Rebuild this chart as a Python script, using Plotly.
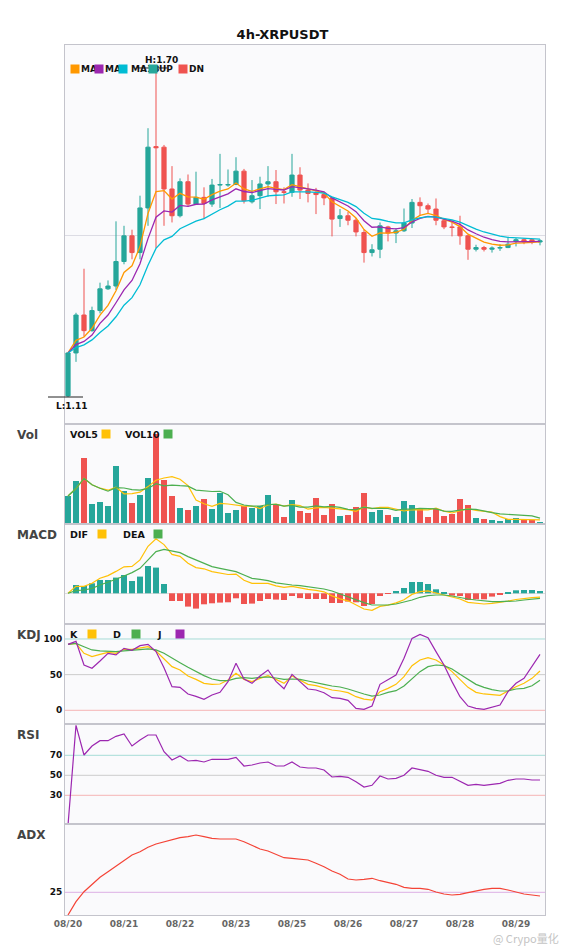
import plotly.graph_objects as go
from plotly.subplots import make_subplots

# 4h candles of XRPUSDT, one bar per index, ticks every 7 bars
tick_pos = [0, 7, 14, 21, 28, 35, 42, 49, 56]
tick_text = ["08/20", "08/21", "08/22", "08/23", "08/25", "08/26", "08/27", "08/28", "08/29"]

open_ = [1.112, 1.189, 1.257, 1.229, 1.265, 1.304, 1.309, 1.353, 1.399, 1.369,
         1.449, 1.559, 1.558, 1.483, 1.435, 1.496, 1.456, 1.468, 1.456, 1.490,
         1.490, 1.491, 1.515, 1.460, 1.471, 1.492, 1.496, 1.478, 1.477, 1.508,
         1.481, 1.476, 1.473, 1.467, 1.430, 1.435, 1.427, 1.405, 1.369, 1.375,
         1.415, 1.404, 1.408, 1.422, 1.459, 1.453, 1.447, 1.426, 1.415, 1.415,
         1.399, 1.375, 1.378, 1.375, 1.377, 1.378, 1.389, 1.392, 1.392, 1.388]
high = [1.190, 1.261, 1.340, 1.272, 1.315, 1.319, 1.425, 1.417, 1.410, 1.471,
        1.592, 1.700, 1.562, 1.524, 1.502, 1.509, 1.514, 1.486, 1.501, 1.546,
        1.518, 1.540, 1.519, 1.499, 1.505, 1.524, 1.517, 1.486, 1.546, 1.522,
        1.493, 1.485, 1.478, 1.469, 1.447, 1.442, 1.431, 1.410, 1.384, 1.423,
        1.417, 1.413, 1.448, 1.465, 1.468, 1.457, 1.466, 1.431, 1.427, 1.435,
        1.401, 1.383, 1.381, 1.380, 1.384, 1.396, 1.395, 1.395, 1.393, 1.393]
low = [1.110, 1.173, 1.218, 1.227, 1.260, 1.302, 1.302, 1.348, 1.357, 1.357,
       1.417, 1.377, 1.417, 1.423, 1.432, 1.451, 1.455, 1.429, 1.451, 1.449,
       1.487, 1.490, 1.457, 1.457, 1.447, 1.469, 1.456, 1.457, 1.469, 1.465,
       1.459, 1.438, 1.454, 1.398, 1.415, 1.418, 1.398, 1.351, 1.362, 1.359,
       1.389, 1.386, 1.406, 1.413, 1.435, 1.439, 1.418, 1.411, 1.398, 1.383,
       1.356, 1.371, 1.371, 1.369, 1.372, 1.377, 1.380, 1.384, 1.384, 1.382]
close = [1.189, 1.257, 1.229, 1.265, 1.304, 1.309, 1.353, 1.399, 1.369, 1.449,
         1.558, 1.557, 1.483, 1.435, 1.496, 1.456, 1.468, 1.457, 1.490, 1.491,
         1.491, 1.515, 1.462, 1.471, 1.492, 1.496, 1.478, 1.477, 1.508, 1.481,
         1.475, 1.473, 1.467, 1.429, 1.435, 1.427, 1.406, 1.369, 1.374, 1.417,
         1.404, 1.408, 1.422, 1.459, 1.453, 1.447, 1.427, 1.415, 1.414, 1.399,
         1.375, 1.378, 1.375, 1.377, 1.378, 1.384, 1.392, 1.388, 1.388, 1.390]

ma5 = [1.189, 1.2117, 1.2175, 1.2333, 1.2569, 1.2743, 1.3005, 1.3333, 1.3452, 1.3798,
       1.4392, 1.4785, 1.48, 1.465, 1.4752, 1.4688, 1.4685, 1.4647, 1.473, 1.479,
       1.483, 1.4937, 1.483, 1.4788, 1.4832, 1.4873, 1.4842, 1.482, 1.4907, 1.4875,
       1.4833, 1.4797, 1.4755, 1.46, 1.4515, 1.4435, 1.4311, 1.4103, 1.3981, 1.4043,
       1.404, 1.4054, 1.4108, 1.4269, 1.4356, 1.4394, 1.4354, 1.4287, 1.4237, 1.4156,
       1.402, 1.3941, 1.3877, 1.3842, 1.3821, 1.3829, 1.3858, 1.3865, 1.387, 1.3881]
ma8 = [1.189, 1.2041, 1.2097, 1.221, 1.242, 1.257, 1.279, 1.302, 1.319, 1.349,
       1.394, 1.4323, 1.4436, 1.4417, 1.4536, 1.4518, 1.4556, 1.4559, 1.4634, 1.4695,
       1.4743, 1.4834, 1.4785, 1.4767, 1.4801, 1.4835, 1.4823, 1.4812, 1.4872, 1.4858,
       1.4834, 1.481, 1.4779, 1.467, 1.4598, 1.4526, 1.4423, 1.426, 1.4144, 1.4149,
       1.4124, 1.4115, 1.4137, 1.4238, 1.4303, 1.434, 1.4325, 1.4287, 1.4253, 1.4195,
       1.4096, 1.4027, 1.3965, 1.3922, 1.389, 1.388, 1.3888, 1.3886, 1.3885, 1.3889]
ma13 = [1.189, 1.1987, 1.2034, 1.2124, 1.2255, 1.2374, 1.2539, 1.2747, 1.2882, 1.3112,
        1.3464, 1.3765, 1.3917, 1.3979, 1.4118, 1.4181, 1.4253, 1.4299, 1.4383, 1.4458,
        1.4523, 1.4612, 1.4612, 1.4625, 1.4667, 1.4708, 1.4718, 1.4726, 1.4777, 1.4782,
        1.4777, 1.477, 1.4756, 1.469, 1.4641, 1.4589, 1.4514, 1.4396, 1.4302, 1.4283,
        1.4248, 1.4224, 1.4223, 1.4276, 1.4312, 1.4335, 1.4326, 1.4301, 1.4277, 1.4236,
        1.4166, 1.4111, 1.4059, 1.4018, 1.3984, 1.3964, 1.3957, 1.3946, 1.3937, 1.3932]

volume = [28, 43, 66, 20, 22, 18, 58, 33, 21, 29, 46, 90, 44, 28, 16, 14, 18, 25, 15, 31,
          11, 14, 18, 16, 18, 29, 19, 7, 24, 13, 11, 26, 9, 20, 8, 9, 17, 31, 12, 14,
          9, 7, 23, 19, 15, 7, 15, 8, 10, 25, 19, 6, 5, 4, 3, 5, 6, 4, 4, 2]
vol5 = [28, 35.5, 45.7, 39.3, 35.8, 33.8, 36.8, 30.2, 30.4, 31.8,
        37.4, 43.8, 46, 47.4, 44.8, 38.4, 24, 20.2, 17.6, 20.6,
        20, 19.2, 17.8, 18, 15.4, 19, 20, 17.8, 19.4, 18.4,
        14.8, 16.2, 16.6, 15.8, 14.8, 14.4, 12.6, 17, 15.4, 16.6,
        16.6, 14.6, 13, 14.4, 14.6, 14.2, 15.8, 12.8, 11, 13,
        15.4, 13.6, 13, 11.8, 7.4, 4.6, 4.6, 4.4, 4.4, 4.2]
vol10 = [28, 35.5, 45.7, 39.3, 35.8, 32.8, 36.4, 36, 34.3, 33.8,
         35.6, 40.3, 38.1, 38.9, 38.3, 37.9, 33.9, 33.1, 32.5, 32.7,
         29.2, 21.6, 19, 17.8, 18, 19.5, 19.6, 17.8, 18.7, 16.9,
         16.9, 18.1, 17.2, 17.6, 16.6, 14.6, 14.4, 16.8, 15.6, 15.7,
         15.5, 13.6, 15, 14.9, 15.6, 15.4, 15.2, 12.9, 12.7, 13.8,
         14.8, 14.7, 12.9, 11.4, 10.2, 10, 9.1, 8.7, 8.1, 5.8]

dif = [0, .0069, .007, .01, .015, .0177, .0219, .0265, .0269, .0334,
       .047, .0546, .0487, .0389, .0369, .0301, .0257, .0245, .0217, .0204,
       .0188, .0192, .013, .0099, .0102, .0099, .0074, .006, .007, .0053,
       .0039, .0029, .0015, -.0026, -.0056, -.0075, -.0112, -.0157, -.0171, -.0131,
       -.0119, -.0096, -.0064, -.0011, .0017, .0024, .0003, -.0015, -.0039, -.0057,
       -.0091, -.0097, -.0107, -.01, -.0092, -.0078, -.0062, -.0051, -.0044, -.0039]
dea = [0, .0027, .0033, .005, .0083, .011, .014, .0173, .0207, .025,
       .0333, .0417, .044, .0427, .0407, .0367, .0333, .03, .0267, .025,
       .0233, .0217, .0183, .015, .014, .0127, .0105, .0093, .0083, .0077,
       .0067, .0057, .0043, .0023, -.0007, -.0033, -.0067, -.0093, -.0117, -.0117,
       -.0117, -.0107, -.009, -.0067, -.004, -.0023, -.0017, -.0017, -.0027, -.0043,
       -.0057, -.0067, -.0077, -.0083, -.0083, -.0083, -.0077, -.0067, -.006, -.005]
macd_hist = [0, .0083, .0073, .0100, .0133, .0133, .0157, .0183, .0123, .0167,
             .0273, .0257, .0093, -.0077, -.0077, -.0133, -.0153, -.0110, -.0100, -.0093,
             -.0090, -.0050, -.0107, -.0103, -.0077, -.0057, -.0063, -.0067, -.0027, -.0048,
             -.0057, -.0057, -.0057, -.0097, -.0097, -.0083, -.0090, -.0127, -.0107, -.0027,
             -.0003, .0023, .0053, .0113, .0113, .0093, .0040, .0005, -.0023, -.0027,
             -.0067, -.0060, -.0060, -.0033, -.0017, .0010, .0030, .0033, .0033, .0023]

k_val = [92.5, 93.9, 79.9, 75.2, 78.5, 81.3, 79.9, 85.5, 85.5, 87.8,
         89.2, 83.2, 72.9, 61.2, 56.5, 48.1, 43.4, 37.8, 36.4, 36.9,
         42.5, 51.8, 43.4, 40.2, 44.8, 48.6, 43.4, 37.8, 48.1, 42.5,
         36.4, 34.5, 31.7, 28.5, 27.1, 24.7, 19.1, 15.8, 14.4, 26.1,
         30.8, 36.4, 47.2, 62.6, 70.5, 73.8, 70.5, 63.5, 54.2, 42.5,
         32.2, 25.2, 22.9, 21.9, 21, 27.1, 33.1, 37.8, 44.8, 55.1]
d_val = [92.5, 93.9, 89.2, 84.6, 83.2, 82.7, 82.3, 83.2, 83.6, 85,
         86, 84.6, 79.9, 72.9, 66.8, 60.3, 54.2, 48.6, 43.9, 41.6,
         41.6, 44.8, 45.8, 44.8, 46.2, 46.7, 45.3, 43.4, 43.9, 43.4,
         41.1, 39.2, 36.4, 34.1, 32.7, 29.9, 26.1, 22.9, 20, 21.5,
         25.2, 27.5, 34.1, 43.9, 54.2, 61.2, 63.5, 62.6, 57.9, 50.4,
         43.4, 36.4, 32.2, 28.9, 27.1, 27.1, 29.9, 30.8, 34.5, 42]
j_val = [92.5, 96.7, 63.5, 58.9, 69.1, 79.9, 77.6, 86.9, 84.1, 90.6,
         92.5, 82.3, 59.8, 33.1, 32.2, 22.9, 19.6, 15.4, 21.5, 25.2,
         40.2, 65.9, 43.9, 37.8, 48.1, 56.5, 40.6, 30.3, 50.4, 40.2,
         29.9, 28.5, 24.7, 17.7, 16.8, 14, 2.8, 1.4, 6, 36.4,
         42.5, 49.5, 72.9, 100.9, 106.5, 101.9, 82.3, 63.5, 40.2, 19.1,
         6, 2.8, 1.4, 4.2, 7.4, 26.1, 37.8, 44.8, 61.2, 78.5]

rsi = [0, 100, 70.3, 79.3, 84.6, 84.6, 89, 91.3, 79.3, 85.3,
       90.3, 90.3, 73.6, 65.3, 69.3, 64.3, 65, 63.3, 66, 66,
       66, 68, 59.3, 60.3, 62.3, 63.3, 59.3, 59.3, 63.3, 58.3,
       57.3, 57.3, 55.3, 48.3, 49, 48, 43.6, 38.3, 40, 49.3,
       46.3, 47, 50, 57.3, 55.3, 54, 50, 48, 48, 44.3,
       40, 41, 40, 41, 42, 45, 46.3, 46.3, 45.3, 45.3]

adx = [13.65, 20.3, 25.3, 29.15, 32.5, 35.3, 38.15, 41.15, 43.65, 45.3,
       47.5, 49.15, 50.3, 51.5, 52.3, 52.8, 53.65, 52.8, 52, 51.65,
       51.65, 51.65, 50.3, 48.65, 46.65, 45.65, 43.8, 42.3, 42, 41.5,
       41.15, 39.5, 37.8, 35.65, 34, 31.65, 31.15, 31.5, 32, 30.8,
       29.8, 29, 27.5, 27, 27, 26.5, 25.15, 24.15, 23.65, 24,
       24.8, 25.8, 26.5, 27, 27, 26.15, 25.15, 24.15, 23.65, 23.15]

UP = "#26a69a"
DN = "#ef5350"
C_MA5, C_MA8, C_MA13 = "#ff9800", "#9c27b0", "#00bcd4"
C_Y, C_G, C_P = "#ffc107", "#4caf50", "#9c27b0"
FONT = "DejaVu Sans"

x = list(range(len(close)))
XR = [-0.375, len(close) - 0.375]
bar_colors = [UP if c >= o else DN for o, c in zip(open_, close)]
hist_colors = [UP if v >= 0 else DN for v in macd_hist]

fig = make_subplots(rows=6, cols=1, shared_xaxes=True, vertical_spacing=0,
                    row_heights=[379, 100, 100, 100, 100, 91])

# price
fig.add_trace(go.Candlestick(
    x=x, open=open_, high=high, low=low, close=close,
    increasing=dict(line=dict(color=UP, width=1), fillcolor=UP),
    decreasing=dict(line=dict(color=DN, width=1), fillcolor=DN),
    whiskerwidth=0, showlegend=False), row=1, col=1)
for vals, col in [(ma5, C_MA5), (ma8, C_MA8), (ma13, C_MA13)]:
    fig.add_trace(go.Scatter(x=x, y=vals, mode="lines", line=dict(color=col, width=1.3),
                             showlegend=False), row=1, col=1)

# volume
fig.add_trace(go.Bar(x=x, y=volume, marker_color=bar_colors, marker_line_width=0,
                     showlegend=False), row=2, col=1)
fig.add_trace(go.Scatter(x=x, y=vol5, mode="lines", line=dict(color=C_Y, width=1.2),
                         showlegend=False), row=2, col=1)
fig.add_trace(go.Scatter(x=x, y=vol10, mode="lines", line=dict(color=C_G, width=1.2),
                         showlegend=False), row=2, col=1)

# macd
fig.add_trace(go.Bar(x=x, y=macd_hist, marker_color=hist_colors, marker_line_width=0,
                     showlegend=False), row=3, col=1)
fig.add_trace(go.Scatter(x=x, y=dif, mode="lines", line=dict(color=C_Y, width=1.2),
                         showlegend=False), row=3, col=1)
fig.add_trace(go.Scatter(x=x, y=dea, mode="lines", line=dict(color=C_G, width=1.2),
                         showlegend=False), row=3, col=1)

# kdj
for vals, col in [(k_val, C_Y), (d_val, C_G), (j_val, C_P)]:
    fig.add_trace(go.Scatter(x=x, y=vals, mode="lines", line=dict(color=col, width=1.2),
                             showlegend=False), row=4, col=1)

# rsi / adx
fig.add_trace(go.Scatter(x=x, y=rsi, mode="lines", line=dict(color=C_P, width=1.2),
                         showlegend=False), row=5, col=1)
fig.add_trace(go.Scatter(x=x, y=adx, mode="lines", line=dict(color="#f44336", width=1.2),
                         showlegend=False), row=6, col=1)

# reference lines
for r, yv, col in [(4, 100, "#a6dcd6"), (4, 50, "#cccccc"), (4, 0, "#f5b5b5"),
                   (5, 70, "#a6dcd6"), (5, 50, "#cccccc"), (5, 30, "#f5b5b5"),
                   (6, 25, "#dcb0e4")]:
    fig.add_hline(y=yv, row=r, col=1, line=dict(color=col, width=1), layer="below")

tick_font = dict(family=FONT, size=9, color="#111111", weight="bold")
for r in range(1, 7):
    fig.update_xaxes(row=r, col=1, range=XR, showgrid=False, zeroline=False,
                     showline=True, mirror=True, linecolor="#c4c4cc", linewidth=1,
                     tickvals=tick_pos, ticktext=tick_text, ticks="",
                     showticklabels=(r == 6),
                     tickfont=dict(family=FONT, size=9, color="#666666", weight="bold"))
    fig.update_yaxes(row=r, col=1, showgrid=False, zeroline=False, showline=True,
                     mirror=True, linecolor="#c4c4cc", linewidth=1, ticks="",
                     tickfont=tick_font, fixedrange=True)

fig.update_yaxes(row=1, col=1, range=[1.0616, 1.7412], tickvals=[1.40], showgrid=True,
                 gridcolor="#dcdce4", showticklabels=False)
fig.update_yaxes(row=2, col=1, range=[0, 100], showticklabels=False)
fig.update_yaxes(row=3, col=1, range=[-0.0307, 0.0693], showticklabels=False,
                 zeroline=True, zerolinecolor="#dddddd", zerolinewidth=1)
fig.update_yaxes(row=4, col=1, range=[-19.2, 121], tickvals=[0, 50, 100])
fig.update_yaxes(row=5, col=1, range=[1.3, 101.3], tickvals=[30, 50, 70])
fig.update_yaxes(row=6, col=1, range=[13.65, 59.15], tickvals=[25])

# pixel -> paper helpers (plot area 65..545 x 45..915)
PL, PR, PT, PB = 65, 545, 45, 915


def px(v):
    return (v - PL) / (PR - PL)


def py(v):
    return (PB - v) / (PB - PT)


def label(xp, yp, text, size=9.5, color="#111111"):
    # annotations carry ~2px of inner padding, pull them back a little
    fig.add_annotation(text=text, x=px(xp - 2), y=py(yp), xref="paper", yref="paper",
                       xanchor="left", yanchor="middle", showarrow=False,
                       font=dict(family=FONT, size=size, color=color, weight="bold"))


def key(xp, yp, color, s=8):
    fig.add_annotation(text=" ", x=px(xp), y=py(yp), xref="paper", yref="paper",
                       xanchor="left", yanchor="middle", showarrow=False, width=s, height=s,
                       borderpad=0, bgcolor=color, font=dict(size=4))


# main legend (squares drawn over the previous label, as in the source)
for sx, lx, col, txt in [(70, 81, C_MA5, "MA5"), (94, 105, C_MA8, "MA8"),
                         (118, 131, C_MA13, "MA13"), (148, 159, UP, "UP"),
                         (178, 189, DN, "DN")]:
    key(sx, 69, col)
    label(lx, 69, txt, size=9)

label(70, 434, "VOL5")
key(101, 434, C_Y)
label(125, 434, "VOL10")
key(163, 434, C_G)

label(70, 534, "DIF")
key(97, 534, C_Y)
label(123, 534, "DEA")
key(153, 534, C_G)

label(70, 634, "K")
key(87, 634, C_Y)
label(113, 634, "D")
key(131, 634, C_G)
label(157, 634, "J")
key(175, 634, C_P)

for yp, txt in [(435, "Vol"), (535, "MACD"), (635, "KDJ"), (735, "RSI"), (835, "ADX")]:
    label(17, yp, txt, size=12, color="#444444")

# high / low markers
i_hi = high.index(max(high))
i_lo = low.index(min(low))
fig.add_shape(type="line", xref="x", yref="y", x0=i_hi - 2.3, x1=i_hi + 1.4,
              y0=high[i_hi], y1=high[i_hi], line=dict(color="#222222", width=1))
fig.add_annotation(text="H:%.2f" % high[i_hi], x=i_hi, y=high[i_hi], xref="x", yref="y",
                   xshift=5, yshift=1, yanchor="bottom", showarrow=False,
                   font=dict(family=FONT, size=9, color="#111111", weight="bold"))
lo_x = (i_lo - XR[0]) / (XR[1] - XR[0])
fig.add_shape(type="line", xref="paper", yref="y", x0=lo_x - 20 / 480, x1=lo_x + 15 / 480,
              y0=low[i_lo], y1=low[i_lo], line=dict(color="#222222", width=1))
fig.add_annotation(text="L:%.2f" % low[i_lo], x=i_lo, y=low[i_lo], xref="x", yref="y",
                   xshift=4, yshift=-2, yanchor="top", showarrow=False,
                   font=dict(family=FONT, size=9, color="#111111", weight="bold"))

fig.add_annotation(text="@ Crypo量化", x=px(561), y=py(938), xref="paper", yref="paper",
                   xanchor="right", yanchor="middle", showarrow=False,
                   font=dict(family="Noto Sans CJK SC", size=11, color="#c4c4c4"))

fig.update_layout(
    width=565, height=950,
    margin=dict(l=PL, r=565 - PR, t=PT, b=950 - PB),
    paper_bgcolor="white", plot_bgcolor="#fafafc",
    title=dict(text="4h-XRPUSDT", x=0.5, xref="container", xanchor="center",
               y=1 - 34 / 950, yref="container", yanchor="middle",
               font=dict(family=FONT, size=13, color="#111111", weight="bold")),
    bargap=0.25, boxgap=0.25, showlegend=False, hovermode=False,
    xaxis_rangeslider_visible=False,
)

# page body has a default 8px margin; drop it so the figure sits at the window corner
fig.write_html("out.html", config={"displayModeBar": False},
               post_script="document.body.style.margin='0px';")
